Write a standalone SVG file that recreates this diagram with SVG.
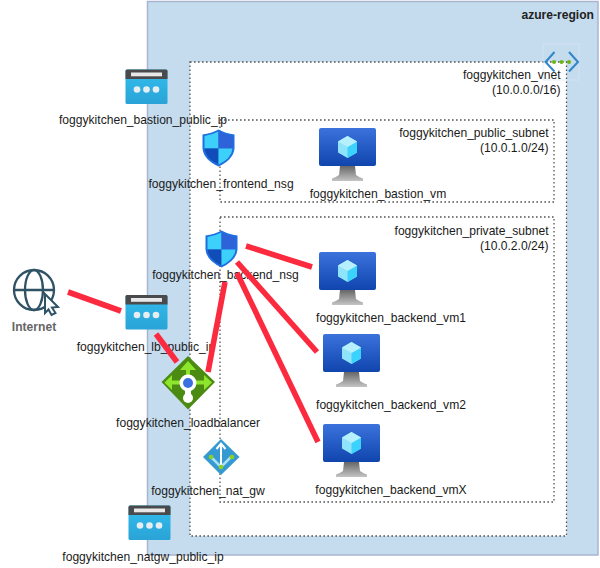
<svg xmlns="http://www.w3.org/2000/svg" width="600" height="568" viewBox="0 0 600 568">
<style>
text{font-family:"Liberation Sans",Arial,sans-serif;font-size:12.1px;fill:#1a1a1a}
.m{text-anchor:middle}.e{text-anchor:end}
.box{fill:#fff;stroke:#555;stroke-width:1.3;stroke-dasharray:1.6 2.4}
.conn{stroke:#fb2a3e;stroke-width:5.6;fill:none}
</style>
<defs>
<linearGradient id="ipg" x1="0" y1="0" x2="0" y2="1"><stop offset="0" stop-color="#32bdee"/><stop offset="1" stop-color="#2aa3d6"/></linearGradient>
<linearGradient id="vmg" x1="0" y1="0" x2="0" y2="1"><stop offset="0" stop-color="#3c72dc"/><stop offset="1" stop-color="#0f45ad"/></linearGradient>
<linearGradient id="stand" x1="0" y1="0" x2="0" y2="1"><stop offset="0" stop-color="#666"/><stop offset="1" stop-color="#c4c4c4"/></linearGradient>
<g id="ip">
<rect x="0" y="0" width="42" height="34.500" rx="1.500" fill="url(#ipg)"/>
<path d="M1.500 0H40.500Q42 0 42 1.500V9.500H0V1.500Q0 0 1.500 0Z" fill="#4a4a4c"/>
<rect x="5.500" y="3" width="31" height="3.800" fill="#e8e8e8"/>
<circle cx="11.500" cy="20" r="3.300" fill="#e6eef2"/><circle cx="21" cy="20" r="3.300" fill="#e6eef2"/><circle cx="30.500" cy="20" r="3.300" fill="#e6eef2"/>
</g>
<g id="vm">
<path d="M21 38H36L37 47Q40 49 44 50.500V53H13V50.500Q17 49 20 47Z" fill="url(#stand)"/>
<rect x="0" y="0" width="57" height="38" rx="2" fill="url(#vmg)"/>
<path d="M28.500 8L38 13.500V24.500L28.500 30L19 24.500V13.500Z" fill="#8fe4fb"/>
<path d="M28.500 19L38 13.500V24.500L28.500 30Z" fill="#3bd2fb"/>
<path d="M28.500 19L19 13.500L28.500 8L38 13.500Z" fill="#b6effd"/>
</g>
<g id="shield">
<path d="M0 5Q9 4 16 0Q23 4 32 5V19Q31 30 16 37Q1 30 0 19Z" fill="#1f6fe0"/>
<path d="M16 2Q9 5.500 2 6.500V19H16Z" fill="#3cd0fb"/>
<path d="M16 2Q23 5.500 30 6.500V19H16Z" fill="#2e62d8"/>
<path d="M2 19Q3 29 16 35V19Z" fill="#114db8"/>
<path d="M30 19Q29 29 16 35V19Z" fill="#3cd0fb"/>
</g>
</defs>

<rect id="azure-region" x="147.500" y="1.500" width="450.500" height="553.500" fill="#c5dcef" stroke="#a9b4cf" stroke-width="1.500"/>
<text x="594" y="19" class="e" style="font-weight:bold;fill:#222">azure-region</text>

<g id="vnet">
<rect class="box" x="190" y="62" width="376.500" height="474"/>
<rect x="543" y="44" width="36" height="36" fill="none" stroke="#d8e6f2" stroke-width="0.700"/>
<path d="M554.500 52L545.500 62L554.500 71.500M569 52L578 62L569 71.500" fill="none" stroke="#2f86c8" stroke-width="2"/>
<circle cx="554" cy="62" r="2" fill="#6cb80e"/><circle cx="561.500" cy="62" r="2" fill="#6cb80e"/><circle cx="569" cy="62" r="2" fill="#6cb80e"/>
<text x="560.500" y="79" class="e">foggykitchen_vnet</text>
<text x="560.500" y="94" class="e">(10.0.0.0/16)</text>
</g>
<g id="public_subnet">
<rect class="box" x="220" y="120" width="334" height="82"/>
<text x="548.500" y="137" class="e">foggykitchen_public_subnet</text>
<text x="548.500" y="152" class="e">(10.0.1.0/24)</text>
</g>
<g id="private_subnet">
<rect class="box" x="220" y="217" width="334" height="285"/>
<text x="548.500" y="235" class="e">foggykitchen_private_subnet</text>
<text x="548.500" y="250" class="e">(10.0.2.0/24)</text>
</g>

<g id="bastion_public_ip"><use href="#ip" x="125.500" y="69.500"/><text x="143" y="123.500" class="m">foggykitchen_bastion_public_ip</text></g>
<g id="frontend_nsg"><use href="#shield" x="202.500" y="129.500"/><text x="221" y="187.500" class="m">foggykitchen_frontend_nsg</text></g>
<g id="bastion_vm"><use href="#vm" x="319" y="128"/><text x="378" y="197.500" class="m">foggykitchen_bastion_vm</text></g>
<g id="backend_nsg"><use href="#shield" x="205.500" y="230.500"/><text x="225.500" y="278.500" class="m">foggykitchen_backend_nsg</text></g>
<g id="backend_vm1"><use href="#vm" x="319" y="252"/><text x="391" y="321.500" class="m">foggykitchen_backend_vm1</text></g>
<g id="backend_vm2"><use href="#vm" x="323" y="334"/><text x="391" y="408.500" class="m">foggykitchen_backend_vm2</text></g>
<g id="backend_vmX"><use href="#vm" x="323" y="424"/><text x="391" y="493.500" class="m">foggykitchen_backend_vmX</text></g>

<g id="internet">
<g fill="none" stroke="#2f5365" stroke-width="2.300">
<circle cx="34" cy="290" r="20"/><ellipse cx="34" cy="290" rx="9" ry="20"/><path d="M14 290H54"/>
</g>
<path d="M45 294L58 307L52 307.500L55.500 313L51.500 315L48.500 309.500L45 313Z" fill="#fff" stroke="#2f5365" stroke-width="2"/>
<text x="34" y="331" class="m" style="font-weight:bold;fill:#666">Internet</text>
</g>
<g id="lb_public_ip"><use href="#ip" x="125.500" y="295"/><text x="146" y="350.500" class="m">foggykitchen_lb_public_ip</text></g>
<g id="natgw_public_ip"><use href="#ip" x="128.500" y="505.500"/><text x="143" y="560.500" class="m">foggykitchen_natgw_public_ip</text></g>
<g id="nat_gw">
<path d="M221 439L239.500 457L221 475L203 457Z" fill="#359ad1"/>
<path d="M221 444V465M216.500 449L221 443.500L225.500 449" fill="none" stroke="#fff" stroke-width="2"/>
<path d="M211 457L221 467L231 457" fill="none" stroke="#a8e0f5" stroke-width="2.500"/>
<circle cx="211" cy="457" r="2.300" fill="#8fd01e"/><circle cx="232" cy="457" r="2.300" fill="#8fd01e"/><circle cx="221" cy="467" r="2.300" fill="#8fd01e"/>
<text x="208" y="494.500" class="m">foggykitchen_nat_gw</text>
</g>

<g id="connectors" class="conn">
<path d="M68 292L121 311"/>
<path d="M156 334L177 362"/>
<path d="M225 282L208 372"/>
<path d="M246 246L312 267"/>
<path d="M237 262L317 352"/>
<path d="M237 273L318 442"/>
</g>

<g id="loadbalancer">
<path d="M188 356L215 382L188 409.500L161.500 382Z" fill="#4b8b12"/>
<path d="M188 364V376M171 382.500H205" stroke="#8ee62c" stroke-width="4" fill="none"/>
<path d="M180 370L188 361L196 370ZM172 375L164.500 382.500L172 390ZM204 375L212 382.500L204 390Z" fill="#8ee62c"/>
<circle cx="188" cy="383" r="8.500" fill="#fff"/>
<rect x="185" y="390" width="6" height="6" fill="#fff"/>
<circle cx="188" cy="383" r="5" fill="#3c70e0"/>
<circle cx="188" cy="398" r="5" fill="#fff"/>
<text x="188" y="426.500" class="m">foggykitchen_loadbalancer</text>
</g>
</svg>
